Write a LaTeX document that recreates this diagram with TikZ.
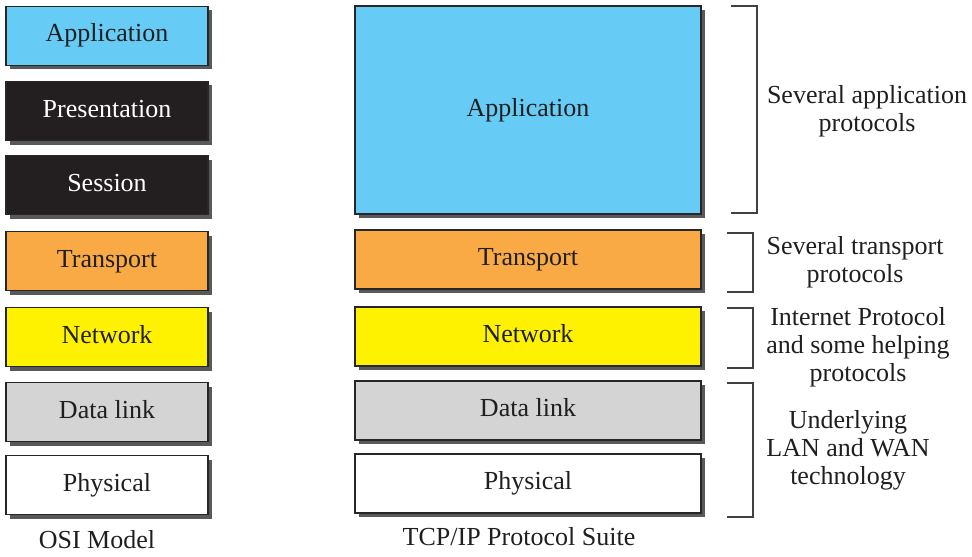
\documentclass[tikz,border=0pt]{standalone}
\usepackage{fontspec}
\setmainfont{Liberation Serif}
\usetikzlibrary{shadows}

\colorlet{txtcol}{black!88}
\colorlet{shadowcol}{black!65}
\definecolor{appcol}{HTML}{66CCF5}
\definecolor{darkcol}{HTML}{231F20}
\definecolor{trancol}{HTML}{F9AA45}
\definecolor{netcol}{HTML}{FFF200}
\definecolor{linkcol}{HTML}{D4D4D4}

\tikzset{
  layer/.style={draw=black!85, line width=0.7pt, inner sep=0,
                minimum width=101pt, minimum height=29.5pt,
                text height=9.5pt, text depth=3.5pt,
                font=\fontsize{13}{15}\selectfont, text=txtcol,
                drop shadow={shadow xshift=2pt, shadow yshift=-2pt,
                             fill=shadowcol, opacity=1}},
  wide/.style={layer, minimum width=173pt},
  brace/.style={draw=black!75, line width=0.7pt},
  note/.style={align=center, font=\fontsize{13}{14}\selectfont, text=txtcol},
}

\begin{document}
\begin{tikzpicture}[x=0.5pt, y=-0.5pt]
    % Canvas in pixels of the 972 x 556 reference, y downwards
    \useasboundingbox (0,0) rectangle (972,556);

    % === Left: OSI Model, seven layers ===
    \node[layer, fill=appcol]                  (osiapp)  at (107,36)  {Application};
    \node[layer, fill=darkcol, text=white]     (osipres) at (107,111) {Presentation};
    \node[layer, fill=darkcol, text=white]     (osises)  at (107,185) {Session};
    \node[layer, fill=trancol]                 (ositran) at (107,261) {Transport};
    \node[layer, fill=netcol]                  (osinet)  at (107,337) {Network};
    \node[layer, fill=linkcol]                 (osilink) at (107,412) {Data link};
    \node[layer, fill=white]                   (osiphy)  at (107,485) {Physical};
    \node[note] (osilabel) at (97,540) {OSI Model};

    % === Middle: TCP/IP Protocol Suite ===
    \node[wide, fill=appcol, minimum height=104pt] (tcpapp)  at (528,110)   {Application};
    \node[wide, fill=trancol]                      (tcptran) at (528,259.5) {Transport};
    \node[wide, fill=netcol]                       (tcpnet)  at (528,336.5) {Network};
    \node[wide, fill=linkcol]                      (tcplink) at (528,410.5) {Data link};
    \node[wide, fill=white]                        (tcpphy)  at (528,483.5) {Physical};
    \node[note] (tcplabel) at (519,537) {TCP/IP Protocol Suite};

    % === Right: brackets and notes ===
    \draw[brace] (731,6) -- (757,6) -- (757,213) -- (731,213);
    \node[note] (appnote) at (867,111) {Several application\\protocols};

    \draw[brace] (727,233) -- (753,233) -- (753,292) -- (727,292);
    \node[note] (trannote) at (855,262) {Several transport\\protocols};

    \draw[brace] (727,308) -- (753,308) -- (753,368) -- (727,368);
    \node[note] (netnote) at (858,347) {Internet Protocol\\and some helping\\protocols};

    \draw[brace] (727,383) -- (753,383) -- (753,517) -- (727,517);
    \node[note] (linknote) at (848,450) {Underlying\\LAN and WAN\\technology};

\end{tikzpicture}
\end{document}
